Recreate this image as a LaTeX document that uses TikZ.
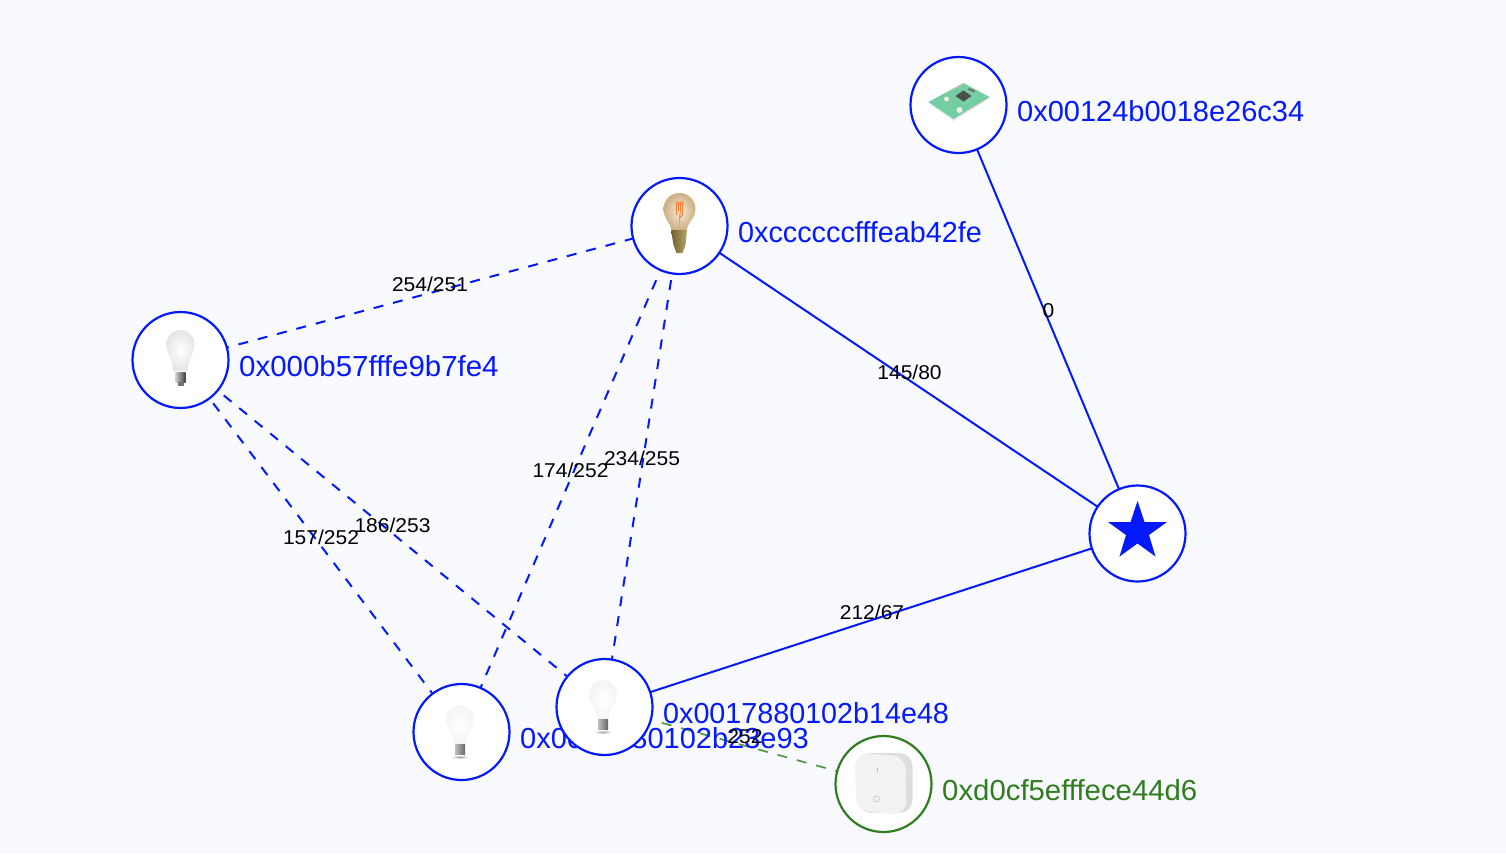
\documentclass[tikz,border=0pt]{standalone}
\usepackage{fontspec}
\setmainfont{Liberation Sans}
\newfontfamily\linkfont[FakeStretch=1.05]{Liberation Sans}
\usetikzlibrary{backgrounds}
\definecolor{pagebg}{HTML}{F8FAFF}
\definecolor{netblue}{HTML}{0519FF}
\definecolor{netgreen}{HTML}{2F7D1E}
\definecolor{linkgreen}{HTML}{4F9640}
\definecolor{glassin}{HTML}{F6ECD8}
\definecolor{glassout}{HTML}{CDB084}
\definecolor{brassa}{HTML}{6F5F2C}
\definecolor{brassb}{HTML}{B8A468}
\tikzset{
  x=1pt,y=-1pt,
  device/.style={circle,draw=netblue,fill=white,line width=2.2pt,minimum size=96pt,inner sep=0pt},
  enddevice/.style={device,draw=netgreen},
  devlabel/.style={anchor=base west,inner sep=0pt,text=netblue,font=\fontsize{29}{29}\selectfont},
  endlabel/.style={devlabel,text=netgreen},
  linklabel/.style={inner sep=0pt,text=black,font=\linkfont\fontsize{20}{20}\selectfont},
  mainlink/.style={draw=netblue,line width=2pt},
  sidelink/.style={mainlink,dash pattern=on 10pt off 10pt,dash phase=18pt},
  endlink/.style={draw=linkgreen,line width=1.7pt,dash pattern=on 10pt off 10pt},
}
\newcommand{\bulbglobe}{%
  \shade[inner color=white,outer color=black!4]
    (-14,-13) arc[start angle=180,end angle=360,radius=14]
    .. controls (14,-3) and (6,2) .. (5.5,12) -- (-5.5,12) .. controls (-6,2) and (-14,-3) .. (-14,-13) -- cycle;
  \shade[left color=black!25,right color=black!60] (-5,12) rectangle (5,23);
  \shade[inner color=black!35,outer color=white] (0,25) ellipse[x radius=9,y radius=2];
}
\begin{document}
\begin{tikzpicture}
\useasboundingbox (0,0) rectangle (1506,854);
% nodes
\node[device] (chip) at (958.5,105) {};
\node[devlabel] (chiplabel) at (1017,121) {0x00124b0018e26c34};
\node[device] (filament) at (679.5,226) {};
\node[devlabel] (filamentlabel) at (738,242) {\scalebox{.992}[1]{0xccccccfffeab42fe}};
\node[device] (ebulb) at (180.5,360) {};
\node[devlabel] (ebulblabel) at (239,376) {\scalebox{1.016}[1]{0x000b57fffe9b7fe4}};
\node[device] (star) at (1137.5,533.5) {};
\node[device] (lowbulb) at (461.5,732) {};
\node[devlabel] (lowlabel) at (520,748) {0x0017880102b23e93};
\node[device] (midbulb) at (604.5,707) {};
\node[devlabel] (midlabel) at (663,723) {\scalebox{.99}[1]{0x0017880102b14e48}};
\node[enddevice] (switch) at (883.5,784) {};
\node[endlabel] (switchlabel) at (942,800) {\scalebox{1.012}[1]{0xd0cf5efffece44d6}};
% star
\fill[netblue] (1137.5,501) -- (1144.5,522) -- (1167,522) -- (1149,535) -- (1155.5,556.5) -- (1137.5,543.5) -- (1119.5,556.5) -- (1126,535) -- (1108,522) -- (1130.5,522) -- cycle;
% chip image
\begin{scope}[shift={(958.5,105)}]
  \fill[black!10] (-30,-2) -- (-5,16) -- (31,-7) -- (31,-8) -- cycle;
  \fill[green!30!teal!55!white] (-30,-3) -- (5,-22) -- (31,-8) -- (-5,14) -- cycle;
  \fill[black!70] (5,-14.5) -- (13,-9) -- (5,-3.5) -- (-3,-9) -- cycle;
  \fill[black!55] (11,-17) -- (17,-14) -- (15,-12.5) -- (9,-15.5) -- cycle;
  \fill[white!85!brown] (-12,-6) circle[radius=2.5];
  \fill[white!85!brown] (1,5) circle[radius=3];
  \draw[brown!45!white,line width=1pt,dash pattern=on 1pt off 1pt] (-13,-12) -- (5,-21);
  \draw[brown!45!white,line width=1pt,dash pattern=on 1pt off 1pt] (10,5) -- (30,-7);
\end{scope}
% filament bulb image
\begin{scope}[shift={(679.5,226)}]
  \shade[inner color=glassin,outer color=glassout]
    (-16,-17) arc[start angle=180,end angle=360,radius=16]
    .. controls (16,-8) and (8,-3) .. (7,4) -- (-8,4) .. controls (-9,-3) and (-16,-8) .. (-16,-17) -- cycle;
  \shade[left color=brassa,right color=brassb] (-8.5,4) -- (7.5,4) -- (6,19) -- (3,27) -- (-3,27) -- (-6,19) -- cycle;
  \draw[orange!70!red!80!white,line width=.9pt] (-3,-11) -- (-3,-24) -- (-1,-24) -- (-1,-15) (1,-15) -- (1,-24) -- (3,-24) -- (3,-11) -- (0,-8) -- cycle;
  \draw[black!30,line width=.5pt] (0,-8) -- (0,4);
\end{scope}
% E27 bulb image
\begin{scope}[shift={(180.5,360)}]
  \shade[inner color=white,outer color=black!10]
    (-14,-16) arc[start angle=180,end angle=360,radius=14]
    .. controls (14,-7) and (8,-2) .. (7,11) -- (-7,11) .. controls (-8,-2) and (-14,-7) .. (-14,-16) -- cycle;
  \shade[left color=black!20,right color=black!75] (-5,12) rectangle (5,22);
  \fill[black!55] (-3,22) rectangle (3,26);
\end{scope}
% B22 bulb images
\begin{scope}[shift={(460,732)}]
  \bulbglobe
\end{scope}
\begin{scope}[shift={(603,707)}]
  \bulbglobe
\end{scope}
% switch image
\begin{scope}[shift={(883.5,784)}]
  \fill[black!13,rounded corners=13pt] (-25,-31) rectangle (29,29);
  \fill[black!5,rounded corners=14pt] (-29,-31) -- (22,-28) -- (23,31) -- (-27,27) -- cycle;
  \draw[black!25,line width=.8pt] (-6,-16) -- (-6,-11);
  \draw[black!20,line width=.8pt] (-7,15) circle[radius=3];
\end{scope}
% links
\begin{pgfonlayer}{background}
  \fill[pagebg] (0,0) rectangle (1506,854);
  \draw[mainlink] (chip.center) -- (star.center);
  \draw[mainlink] (filament.center) -- (star.center);
  \draw[mainlink] (midbulb.center) -- (star.center);
  \draw[sidelink,dash phase=0pt] (ebulb.center) -- (filament.center);
  \draw[sidelink] (lowbulb.center) -- (filament.center);
  \draw[sidelink] (midbulb.center) -- (filament.center);
  \draw[sidelink] (midbulb.center) -- (ebulb.center);
  \draw[sidelink] (lowbulb.center) -- (ebulb.center);
  \draw[endlink] (switch.center) -- (midbulb.center);
\end{pgfonlayer}
% link labels
\node[linklabel] (l1) at (430,284) {254/251};
\node[linklabel] (l2) at (1048.5,311) {0};
\node[linklabel] (l3) at (909.5,372) {145/80};
\node[linklabel] (l4) at (570.5,470) {174/252};
\node[linklabel] (l5) at (642,458) {234/255};
\node[linklabel] (l6) at (392.5,525) {186/253};
\node[linklabel] (l7) at (321,537) {157/252};
\node[linklabel] (l8) at (872,612) {212/67};
\node[linklabel] (l9) at (745,737) {252};
\end{tikzpicture}
\end{document}
